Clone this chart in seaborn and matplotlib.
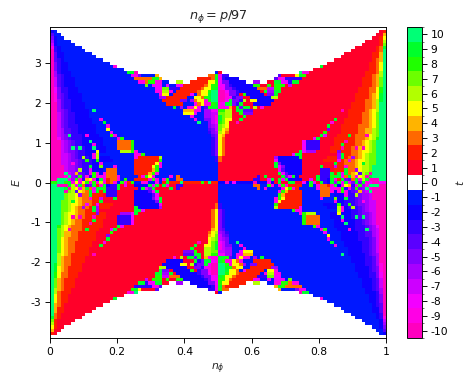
import numpy as np
import pandas as pd
import matplotlib
matplotlib.use("Agg")
import matplotlib.pyplot as plt
from matplotlib.colors import ListedColormap, BoundaryNorm
import seaborn as sns

# Upper-left quadrant. Each token: value code + end column.
# codes: . = 0, 1-9 and A = +1..+10, a-j = -1..-10
UPPER_LEFT_ROWS = [
    ".48",
    "b1 a2 .48",
    "d1 a3 .48",
    "e1 b2 a4 .48",
    "f1 b2 a6 .48",
    "g1 b2 a7 .48",
    "i1 c2 b3 a9 .48",
    "j1 c2 b3 a10 .48",
    "j1 d2 b4 a12 .48",
    "j1 d2 b4 a13 .48",
    "j1 d2 c3 b4 a15 .48",
    "j1 e2 c3 b5 a17 .48",
    "j1 e2 c3 b5 a18 i19 .48",
    "j1 e2 c3 b5 a21 .48",
    "j1 f2 c3 b6 a22 924 j25 .47 a48",
    "j1 f2 d3 c4 b6 a23 h24 i25 e26 a30 431 .45 347 848",
    "j1 g2 d3 c4 b7 a24 329 830 931 432 .42 246 347 948",
    "j1 g2 d3 c4 b7 a25 i27 328 830 i32 a34 .36 638 .40 245 547 848",
    "j1 g2 d3 c4 b7 a27 728 a29 h32 a33 h34 a36 h38 244 345 546 848",
    "j1 h2 e3 c5 b8 a30 h32 734 c37 243 344 546 847 948",
    "j1 h2 e3 c5 b8 a30 i32 634 i35 a36 242 343 545 846 A48",
    "j1 i2 e3 d4 c5 b9 a31 i32 534 a35 240 h41 a42 343 545 946 A48",
    "j1 i2 e3 d4 c5 b9 a31 f33 239 a41 543 344 845 946 A48",
    "j1 i2 f3 d4 c6 b9 a32 237 e39 a40 f41 342 544 i45 846 A48",
    "j2 f3 d4 c6 b10 a33 238 a41 i42 343 544 i46 847 948",
    "j2 f3 d4 c6 b10 a35 936 a37 f38 a39 i41 542 i43 a44 d45 846 948",
    "j2 f3 e4 d5 c6 b11 a12 A13 a38 441 i43 a44 f46 h48",
    "j2 g3 e4 d5 c7 b11 a38 541 h42 a44 f46 g48",
    "j2 g3 e4 d5 c7 b11 a40 i41 a44 f46 g47 i48",
    "j2 g3 e4 d5 c7 b12 a14 i15 a41 i42 a44 e46 g47 i48",
    "j2 g3 e4 d5 c7 b12 a15 916 a42 A43 a45 e46 g47 h48",
    "j2 g3 e4 d5 c8 b13 a16 i17 a45 e46 f47 g48",
    "j2 g3 f4 d6 c8 b13 a16 517 a45 d46 e47 g48",
    "j2 g3 f4 d6 c8 b13 a17 h18 a45 c46 e47 f48",
    "j2 g3 f4 e5 A6 c9 b10 i11 b14 a17 818 i19 a46 d47 e48",
    "j2 h3 f4 e5 d6 c9 b15 a19 i20 821 a46 c47 e48",
    "j3 g4 f5 e6 d7 c9 b11 A12 b15 a19 323 824 a46 c47 e48",
    "j3 g4 f5 e6 d7 c9 b12 i13 b15 a19 323 824 a46 c47 e48",
    "j3 g4 f5 e6 A7 d8 A9 c10 b12 A13 b16 a19 323 824 a46 c47 e48",
    "j3 g4 f5 e7 d8 c10 b13 514 b16 a20 623 824 i25 a46 c47 e48",
    "j3 g5 f6 e7 d8 c10 b12 i13 614 a24 i26 827 a46 c47 e48",
    "j3 g5 f6 e7 d8 c9 610 c11 b12 i13 614 b17 a24 i25 231 632 a47 c48",
    "j3 g5 f6 e8 d9 c10 811 c12 b13 814 b18 a24 231 832 a47 c48",
    "j3 g5 f6 i7 e8 d9 c12 b14 i15 a24 230 531 i32 a48",
    "j4 g5 f7 e8 d9 c11 912 b14 715 a18 i19 a24 229 530 831 i32 a48",
    "j4 g5 f7 e8 69 c11 i12 b15 a16 319 a24 229 430 831 a48",
    "j4 A5 g6 f7 48 e9 d10 c11 i12 813 i14 b15 i16 319 a24 228 429 830 i31 a48",
    "j4 i5 A6 f7 e8 89 d10 i11 c12 813 i15 h16 319 i20 a25 226 i27 828 529 i30 a34 i35 a36 337 a48",
    "j2 A5 i6 f7 88 i9 c10 411 512 i13 b14 915 i16 217 319 i20 a21 822 a24 228 i29 830 i31 a32 i33 834 a36 338 a48",
]
# The row at E = 0, left half, same coding.
CENTRE_ROW = "82 A4 85 96 i7 58 i9 510 811 i12 813 i14 615 i16 217 318 i19 a20 821 i22 223 824 a26 i28 a30 i31 a32 233 934 237 A38 243 844 245 A46 248"

CODES = {".": 0, "A": 10}
CODES.update({str(i): i for i in range(1, 10)})
CODES.update({c: -(i + 1) for i, c in enumerate("abcdefghij")})
NCOL = 48

def parse(row):
    out = np.zeros(NCOL, dtype=int)
    prev = 0
    val = 0
    for tok in row.split():
        val = CODES[tok[0]]
        end = int(tok[1:])
        out[prev:end] = val
        prev = max(prev, end)
    out[prev:] = val
    return out

UL = np.array([parse(r) for r in UPPER_LEFT_ROWS])
C = parse(CENTRE_ROW)
top = np.hstack([UL, -UL[:, ::-1]])
mid = np.hstack([C, -C[::-1]])
grid = np.vstack([top, mid, -top[::-1]])
df = pd.DataFrame(grid)

neg = [plt.cm.gist_rainbow(v) for v in np.linspace(1.0, 0.75, 10)]
pos = [plt.cm.gist_rainbow(v) for v in np.arange(10) * 0.054]
cmap = ListedColormap(neg + [(1, 1, 1, 1)] + pos)
levels = np.arange(-10.5, 11.5, 1)
norm = BoundaryNorm(levels, cmap.N)

W, H = 474, 383
sns.set_style("ticks")
plt.rcParams["font.family"] = ["DejaVu Sans"]
plt.rcParams["mathtext.fontset"] = "dejavusans"
fig = plt.figure(figsize=(W / 74, H / 74), dpi=74)
ax = fig.add_axes([50 / W, 1 - 338 / H, 336 / W, 311 / H])
cax = fig.add_axes([407 / W, 1 - 338 / H, 15 / W, 311 / H])
sns.heatmap(df, ax=ax, cbar_ax=cax, cmap=cmap, norm=norm, xticklabels=False, yticklabels=False,
            cbar_kws={"ticks": np.arange(-10, 11)}, rasterized=True)

xt = [0, 0.2, 0.4, 0.6, 0.8, 1]
ax.set_xticks([v * grid.shape[1] for v in xt])
ax.set_xticklabels(["0", "0.2", "0.4", "0.6", "0.8", "1"], rotation=0, fontsize=10.5)
et = [3, 2, 1, 0, -1, -2, -3]
row_h = 311 / grid.shape[0] / 39.7
ax.set_yticks([grid.shape[0] / 2 - e / row_h for e in et])
ax.set_yticklabels(["3", "2", "1", "0", "-1", "-2", "-3"], rotation=0, fontsize=10.5)
ax.tick_params(length=4.5, width=0.9, left=True, bottom=True, colors="black", pad=4)
for s in ax.spines.values():
    s.set_visible(True)
    s.set_linewidth(0.9)
    s.set_color("black")
ax.set_xlabel(r"$n_\phi$", fontsize=10.5, labelpad=5)
ax.set_ylabel(r"$E$", fontsize=10.5, labelpad=8)
ax.set_title(r"$n_\phi = p/97$", fontsize=12.5, pad=8)

cb = ax.collections[0].colorbar
cb.ax.set_yticklabels([str(v) for v in range(-10, 11)], fontsize=10.5)
cb.ax.tick_params(length=4.5, width=0.9, right=True, colors="black", pad=4)
cb.set_label(r"$t$", fontsize=10.5, labelpad=5)
cb.outline.set_visible(True)
cb.outline.set_linewidth(0.9)
cb.outline.set_edgecolor("black")

fig.savefig("out.png", dpi=74)
